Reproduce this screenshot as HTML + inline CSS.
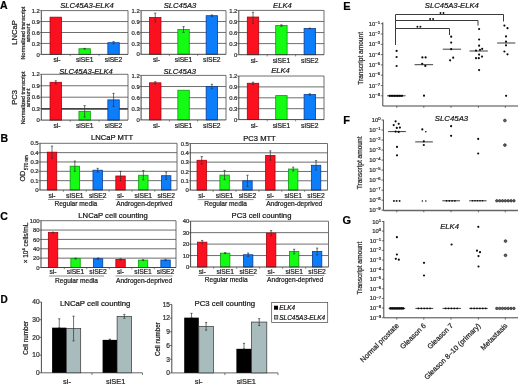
<!DOCTYPE html><html><head><meta charset="utf-8"><style>html,body{margin:0;padding:0;background:#fff;}svg{display:block}</style></head><body>
<svg width="520" height="386" viewBox="0 0 520 386" style="font-family:'Liberation Sans',Arial,sans-serif">
<style>text{stroke:#222;stroke-width:0.22px;paint-order:stroke}</style>
<rect x="0" y="0" width="520" height="386" fill="#fff"/>
<text x="0.1" y="9.3" font-size="10.5" text-anchor="start" fill="#000" font-weight="bold">A</text>
<line x1="41.3" y1="43.45" x2="128" y2="43.45" stroke="#5e5e5e" stroke-width="0.9"/>
<line x1="41.3" y1="32.5" x2="128" y2="32.5" stroke="#5e5e5e" stroke-width="0.9"/>
<line x1="41.3" y1="21.55" x2="128" y2="21.55" stroke="#5e5e5e" stroke-width="0.9"/>
<line x1="41.3" y1="10.6" x2="128" y2="10.6" stroke="#5e5e5e" stroke-width="0.9"/>
<line x1="128" y1="10.6" x2="128" y2="54.4" stroke="#5e5e5e" stroke-width="0.9"/>
<text x="39.9" y="56.52" font-size="5.9" text-anchor="end" fill="#333">0</text>
<line x1="39.5" y1="54.4" x2="41.3" y2="54.4" stroke="#444" stroke-width="0.6"/>
<text x="39.9" y="45.57" font-size="5.9" text-anchor="end" fill="#333">0.3</text>
<line x1="39.5" y1="43.45" x2="41.3" y2="43.45" stroke="#444" stroke-width="0.6"/>
<text x="39.9" y="34.62" font-size="5.9" text-anchor="end" fill="#333">0.6</text>
<line x1="39.5" y1="32.5" x2="41.3" y2="32.5" stroke="#444" stroke-width="0.6"/>
<text x="39.9" y="23.67" font-size="5.9" text-anchor="end" fill="#333">0.9</text>
<line x1="39.5" y1="21.55" x2="41.3" y2="21.55" stroke="#444" stroke-width="0.6"/>
<text x="39.9" y="12.72" font-size="5.9" text-anchor="end" fill="#333">1.2</text>
<line x1="39.5" y1="10.6" x2="41.3" y2="10.6" stroke="#444" stroke-width="0.6"/>
<rect x="50.05" y="17.17" width="11.4" height="37.23" fill="#fb1020" stroke="#a8000a" stroke-width="0.8"/>
<rect x="78.95" y="48.74" width="11.4" height="5.66" fill="#14fc14" stroke="#0a9a0a" stroke-width="0.8"/>
<line x1="84.65" y1="48.38" x2="84.65" y2="49.11" stroke="#333" stroke-width="0.7"/>
<line x1="83.55" y1="48.38" x2="85.75" y2="48.38" stroke="#333" stroke-width="0.7"/>
<line x1="83.55" y1="49.11" x2="85.75" y2="49.11" stroke="#333" stroke-width="0.7"/>
<rect x="107.85" y="42.72" width="11.4" height="11.68" fill="#0c7efc" stroke="#0a3c96" stroke-width="0.8"/>
<line x1="113.55" y1="41.62" x2="113.55" y2="43.81" stroke="#333" stroke-width="0.7"/>
<line x1="112.45" y1="41.62" x2="114.65" y2="41.62" stroke="#333" stroke-width="0.7"/>
<line x1="112.45" y1="43.81" x2="114.65" y2="43.81" stroke="#333" stroke-width="0.7"/>
<line x1="41.3" y1="10.6" x2="41.3" y2="54.4" stroke="#333" stroke-width="0.9"/>
<line x1="41.3" y1="54.4" x2="128" y2="54.4" stroke="#333" stroke-width="0.9"/>
<line x1="70.2" y1="54.4" x2="70.2" y2="56.2" stroke="#444" stroke-width="0.6"/>
<line x1="99.1" y1="54.4" x2="99.1" y2="56.2" stroke="#444" stroke-width="0.6"/>
<text x="57.05" y="62.4" font-size="6.7" text-anchor="middle" fill="#222">si-</text>
<text x="84.65" y="62.4" font-size="6.7" text-anchor="middle" fill="#222">siSE1</text>
<text x="113.55" y="62.4" font-size="6.7" text-anchor="middle" fill="#222">siSE2</text>
<text x="87" y="8.1" font-size="7.6" text-anchor="middle" fill="#111" font-style="italic">SLC45A3-ELK4</text>
<line x1="141.1" y1="43.38" x2="226" y2="43.38" stroke="#5e5e5e" stroke-width="0.9"/>
<line x1="141.1" y1="32.45" x2="226" y2="32.45" stroke="#5e5e5e" stroke-width="0.9"/>
<line x1="141.1" y1="21.52" x2="226" y2="21.52" stroke="#5e5e5e" stroke-width="0.9"/>
<line x1="141.1" y1="10.6" x2="226" y2="10.6" stroke="#5e5e5e" stroke-width="0.9"/>
<line x1="226" y1="10.6" x2="226" y2="54.3" stroke="#5e5e5e" stroke-width="0.9"/>
<text x="139.7" y="56.42" font-size="5.9" text-anchor="end" fill="#333">0</text>
<line x1="139.3" y1="54.3" x2="141.1" y2="54.3" stroke="#444" stroke-width="0.6"/>
<text x="139.7" y="45.5" font-size="5.9" text-anchor="end" fill="#333">0.3</text>
<line x1="139.3" y1="43.38" x2="141.1" y2="43.38" stroke="#444" stroke-width="0.6"/>
<text x="139.7" y="34.57" font-size="5.9" text-anchor="end" fill="#333">0.6</text>
<line x1="139.3" y1="32.45" x2="141.1" y2="32.45" stroke="#444" stroke-width="0.6"/>
<text x="139.7" y="23.65" font-size="5.9" text-anchor="end" fill="#333">0.9</text>
<line x1="139.3" y1="21.52" x2="141.1" y2="21.52" stroke="#444" stroke-width="0.6"/>
<text x="139.7" y="12.72" font-size="5.9" text-anchor="end" fill="#333">1.2</text>
<line x1="139.3" y1="10.6" x2="141.1" y2="10.6" stroke="#444" stroke-width="0.6"/>
<rect x="149.55" y="17.52" width="11.4" height="36.78" fill="#fb1020" stroke="#a8000a" stroke-width="0.8"/>
<line x1="155.25" y1="13.15" x2="155.25" y2="21.89" stroke="#333" stroke-width="0.7"/>
<line x1="154.15" y1="13.15" x2="156.35" y2="13.15" stroke="#333" stroke-width="0.7"/>
<line x1="154.15" y1="21.89" x2="156.35" y2="21.89" stroke="#333" stroke-width="0.7"/>
<rect x="177.85" y="29.54" width="11.4" height="24.76" fill="#14fc14" stroke="#0a9a0a" stroke-width="0.8"/>
<line x1="183.55" y1="26.62" x2="183.55" y2="32.45" stroke="#333" stroke-width="0.7"/>
<line x1="182.45" y1="26.62" x2="184.65" y2="26.62" stroke="#333" stroke-width="0.7"/>
<line x1="182.45" y1="32.45" x2="184.65" y2="32.45" stroke="#333" stroke-width="0.7"/>
<rect x="206.15" y="15.7" width="11.4" height="38.6" fill="#0c7efc" stroke="#0a3c96" stroke-width="0.8"/>
<line x1="211.85" y1="14.97" x2="211.85" y2="16.43" stroke="#333" stroke-width="0.7"/>
<line x1="210.75" y1="14.97" x2="212.95" y2="14.97" stroke="#333" stroke-width="0.7"/>
<line x1="210.75" y1="16.43" x2="212.95" y2="16.43" stroke="#333" stroke-width="0.7"/>
<line x1="141.1" y1="10.6" x2="141.1" y2="54.3" stroke="#333" stroke-width="0.9"/>
<line x1="141.1" y1="54.3" x2="226" y2="54.3" stroke="#333" stroke-width="0.9"/>
<line x1="169.4" y1="54.3" x2="169.4" y2="56.1" stroke="#444" stroke-width="0.6"/>
<line x1="197.7" y1="54.3" x2="197.7" y2="56.1" stroke="#444" stroke-width="0.6"/>
<text x="156.55" y="62.3" font-size="6.7" text-anchor="middle" fill="#222">si-</text>
<text x="183.55" y="62.3" font-size="6.7" text-anchor="middle" fill="#222">siSE1</text>
<text x="211.85" y="62.3" font-size="6.7" text-anchor="middle" fill="#222">siSE2</text>
<text x="180" y="7.8" font-size="7.6" text-anchor="middle" fill="#111" font-style="italic">SLC45A3</text>
<line x1="238.8" y1="43.62" x2="324" y2="43.62" stroke="#5e5e5e" stroke-width="0.9"/>
<line x1="238.8" y1="32.55" x2="324" y2="32.55" stroke="#5e5e5e" stroke-width="0.9"/>
<line x1="238.8" y1="21.47" x2="324" y2="21.47" stroke="#5e5e5e" stroke-width="0.9"/>
<line x1="238.8" y1="10.4" x2="324" y2="10.4" stroke="#5e5e5e" stroke-width="0.9"/>
<line x1="324" y1="10.4" x2="324" y2="54.7" stroke="#5e5e5e" stroke-width="0.9"/>
<text x="237.4" y="56.82" font-size="5.9" text-anchor="end" fill="#333">0</text>
<line x1="237" y1="54.7" x2="238.8" y2="54.7" stroke="#444" stroke-width="0.6"/>
<text x="237.4" y="45.75" font-size="5.9" text-anchor="end" fill="#333">0.3</text>
<line x1="237" y1="43.62" x2="238.8" y2="43.62" stroke="#444" stroke-width="0.6"/>
<text x="237.4" y="34.67" font-size="5.9" text-anchor="end" fill="#333">0.6</text>
<line x1="237" y1="32.55" x2="238.8" y2="32.55" stroke="#444" stroke-width="0.6"/>
<text x="237.4" y="23.6" font-size="5.9" text-anchor="end" fill="#333">0.9</text>
<line x1="237" y1="21.47" x2="238.8" y2="21.47" stroke="#444" stroke-width="0.6"/>
<text x="237.4" y="12.52" font-size="5.9" text-anchor="end" fill="#333">1.2</text>
<line x1="237" y1="10.4" x2="238.8" y2="10.4" stroke="#444" stroke-width="0.6"/>
<rect x="247.3" y="17.04" width="11.4" height="37.66" fill="#fb1020" stroke="#a8000a" stroke-width="0.8"/>
<line x1="253" y1="12.25" x2="253" y2="23.32" stroke="#333" stroke-width="0.7"/>
<line x1="251.9" y1="12.25" x2="254.1" y2="12.25" stroke="#333" stroke-width="0.7"/>
<line x1="251.9" y1="23.32" x2="254.1" y2="23.32" stroke="#333" stroke-width="0.7"/>
<rect x="275.7" y="25.54" width="11.4" height="29.16" fill="#14fc14" stroke="#0a9a0a" stroke-width="0.8"/>
<line x1="281.4" y1="24.8" x2="281.4" y2="26.27" stroke="#333" stroke-width="0.7"/>
<line x1="280.3" y1="24.8" x2="282.5" y2="24.8" stroke="#333" stroke-width="0.7"/>
<line x1="280.3" y1="26.27" x2="282.5" y2="26.27" stroke="#333" stroke-width="0.7"/>
<rect x="304.1" y="28.49" width="11.4" height="26.21" fill="#0c7efc" stroke="#0a3c96" stroke-width="0.8"/>
<line x1="309.8" y1="28.12" x2="309.8" y2="28.86" stroke="#333" stroke-width="0.7"/>
<line x1="308.7" y1="28.12" x2="310.9" y2="28.12" stroke="#333" stroke-width="0.7"/>
<line x1="308.7" y1="28.86" x2="310.9" y2="28.86" stroke="#333" stroke-width="0.7"/>
<line x1="238.8" y1="10.4" x2="238.8" y2="54.7" stroke="#333" stroke-width="0.9"/>
<line x1="238.8" y1="54.7" x2="324" y2="54.7" stroke="#333" stroke-width="0.9"/>
<line x1="267.2" y1="54.7" x2="267.2" y2="56.5" stroke="#444" stroke-width="0.6"/>
<line x1="295.6" y1="54.7" x2="295.6" y2="56.5" stroke="#444" stroke-width="0.6"/>
<text x="254.3" y="62.7" font-size="6.7" text-anchor="middle" fill="#222">si-</text>
<text x="281.4" y="62.7" font-size="6.7" text-anchor="middle" fill="#222">siSE1</text>
<text x="309.8" y="62.7" font-size="6.7" text-anchor="middle" fill="#222">siSE2</text>
<text x="282.4" y="7.7" font-size="7.6" text-anchor="middle" fill="#111" font-style="italic">ELK4</text>
<line x1="41.3" y1="108.85" x2="128" y2="108.85" stroke="#454545" stroke-width="1.6"/>
<line x1="41.3" y1="97.2" x2="128" y2="97.2" stroke="#5e5e5e" stroke-width="0.9"/>
<line x1="41.3" y1="85.75" x2="128" y2="85.75" stroke="#5e5e5e" stroke-width="0.9"/>
<line x1="41.3" y1="74.3" x2="128" y2="74.3" stroke="#5e5e5e" stroke-width="0.9"/>
<line x1="128" y1="74.3" x2="128" y2="120.1" stroke="#5e5e5e" stroke-width="0.9"/>
<text x="39.9" y="122.22" font-size="5.9" text-anchor="end" fill="#333">0</text>
<line x1="39.5" y1="120.1" x2="41.3" y2="120.1" stroke="#444" stroke-width="0.6"/>
<text x="39.9" y="110.77" font-size="5.9" text-anchor="end" fill="#333">0.3</text>
<line x1="39.5" y1="108.65" x2="41.3" y2="108.65" stroke="#444" stroke-width="0.6"/>
<text x="39.9" y="99.32" font-size="5.9" text-anchor="end" fill="#333">0.6</text>
<line x1="39.5" y1="97.2" x2="41.3" y2="97.2" stroke="#444" stroke-width="0.6"/>
<text x="39.9" y="87.87" font-size="5.9" text-anchor="end" fill="#333">0.9</text>
<line x1="39.5" y1="85.75" x2="41.3" y2="85.75" stroke="#444" stroke-width="0.6"/>
<text x="39.9" y="76.42" font-size="5.9" text-anchor="end" fill="#333">1.2</text>
<line x1="39.5" y1="74.3" x2="41.3" y2="74.3" stroke="#444" stroke-width="0.6"/>
<rect x="50.05" y="82.31" width="11.4" height="37.78" fill="#fb1020" stroke="#a8000a" stroke-width="0.8"/>
<line x1="55.75" y1="80.79" x2="55.75" y2="83.84" stroke="#333" stroke-width="0.7"/>
<line x1="54.65" y1="80.79" x2="56.85" y2="80.79" stroke="#333" stroke-width="0.7"/>
<line x1="54.65" y1="83.84" x2="56.85" y2="83.84" stroke="#333" stroke-width="0.7"/>
<rect x="78.95" y="111.32" width="11.4" height="8.78" fill="#14fc14" stroke="#0a9a0a" stroke-width="0.8"/>
<line x1="84.65" y1="105.6" x2="84.65" y2="117.05" stroke="#333" stroke-width="0.7"/>
<line x1="83.55" y1="105.6" x2="85.75" y2="105.6" stroke="#333" stroke-width="0.7"/>
<line x1="83.55" y1="117.05" x2="85.75" y2="117.05" stroke="#333" stroke-width="0.7"/>
<rect x="107.85" y="99.87" width="11.4" height="20.23" fill="#0c7efc" stroke="#0a3c96" stroke-width="0.8"/>
<line x1="113.55" y1="93.38" x2="113.55" y2="106.36" stroke="#333" stroke-width="0.7"/>
<line x1="112.45" y1="93.38" x2="114.65" y2="93.38" stroke="#333" stroke-width="0.7"/>
<line x1="112.45" y1="106.36" x2="114.65" y2="106.36" stroke="#333" stroke-width="0.7"/>
<line x1="41.3" y1="74.3" x2="41.3" y2="120.1" stroke="#333" stroke-width="0.9"/>
<line x1="41.3" y1="120.1" x2="128" y2="120.1" stroke="#333" stroke-width="0.9"/>
<line x1="70.2" y1="120.1" x2="70.2" y2="121.9" stroke="#444" stroke-width="0.6"/>
<line x1="99.1" y1="120.1" x2="99.1" y2="121.9" stroke="#444" stroke-width="0.6"/>
<text x="57.05" y="128.1" font-size="6.7" text-anchor="middle" fill="#222">si-</text>
<text x="84.65" y="128.1" font-size="6.7" text-anchor="middle" fill="#222">siSE1</text>
<text x="113.55" y="128.1" font-size="6.7" text-anchor="middle" fill="#222">siSE2</text>
<text x="86" y="73.5" font-size="7.6" text-anchor="middle" fill="#111" font-style="italic">SLC45A3-ELK4</text>
<line x1="141.1" y1="108.78" x2="226" y2="108.78" stroke="#5e5e5e" stroke-width="0.9"/>
<line x1="141.1" y1="97.65" x2="226" y2="97.65" stroke="#5e5e5e" stroke-width="0.9"/>
<line x1="141.1" y1="86.53" x2="226" y2="86.53" stroke="#5e5e5e" stroke-width="0.9"/>
<line x1="141.1" y1="75.4" x2="226" y2="75.4" stroke="#5e5e5e" stroke-width="0.9"/>
<line x1="226" y1="75.4" x2="226" y2="119.9" stroke="#5e5e5e" stroke-width="0.9"/>
<text x="139.7" y="122.02" font-size="5.9" text-anchor="end" fill="#333">0</text>
<line x1="139.3" y1="119.9" x2="141.1" y2="119.9" stroke="#444" stroke-width="0.6"/>
<text x="139.7" y="110.9" font-size="5.9" text-anchor="end" fill="#333">0.3</text>
<line x1="139.3" y1="108.78" x2="141.1" y2="108.78" stroke="#444" stroke-width="0.6"/>
<text x="139.7" y="99.77" font-size="5.9" text-anchor="end" fill="#333">0.6</text>
<line x1="139.3" y1="97.65" x2="141.1" y2="97.65" stroke="#444" stroke-width="0.6"/>
<text x="139.7" y="88.65" font-size="5.9" text-anchor="end" fill="#333">0.9</text>
<line x1="139.3" y1="86.53" x2="141.1" y2="86.53" stroke="#444" stroke-width="0.6"/>
<text x="139.7" y="77.52" font-size="5.9" text-anchor="end" fill="#333">1.2</text>
<line x1="139.3" y1="75.4" x2="141.1" y2="75.4" stroke="#444" stroke-width="0.6"/>
<rect x="149.55" y="82.82" width="11.4" height="37.08" fill="#fb1020" stroke="#a8000a" stroke-width="0.8"/>
<line x1="155.25" y1="81.7" x2="155.25" y2="83.93" stroke="#333" stroke-width="0.7"/>
<line x1="154.15" y1="81.7" x2="156.35" y2="81.7" stroke="#333" stroke-width="0.7"/>
<line x1="154.15" y1="83.93" x2="156.35" y2="83.93" stroke="#333" stroke-width="0.7"/>
<rect x="177.85" y="90.23" width="11.4" height="29.67" fill="#14fc14" stroke="#0a9a0a" stroke-width="0.8"/>
<rect x="206.15" y="86.53" width="11.4" height="33.38" fill="#0c7efc" stroke="#0a3c96" stroke-width="0.8"/>
<line x1="211.85" y1="84.3" x2="211.85" y2="88.75" stroke="#333" stroke-width="0.7"/>
<line x1="210.75" y1="84.3" x2="212.95" y2="84.3" stroke="#333" stroke-width="0.7"/>
<line x1="210.75" y1="88.75" x2="212.95" y2="88.75" stroke="#333" stroke-width="0.7"/>
<line x1="141.1" y1="75.4" x2="141.1" y2="119.9" stroke="#333" stroke-width="0.9"/>
<line x1="141.1" y1="119.9" x2="226" y2="119.9" stroke="#333" stroke-width="0.9"/>
<line x1="169.4" y1="119.9" x2="169.4" y2="121.7" stroke="#444" stroke-width="0.6"/>
<line x1="197.7" y1="119.9" x2="197.7" y2="121.7" stroke="#444" stroke-width="0.6"/>
<text x="156.55" y="127.9" font-size="6.7" text-anchor="middle" fill="#222">si-</text>
<text x="183.55" y="127.9" font-size="6.7" text-anchor="middle" fill="#222">siSE1</text>
<text x="211.85" y="127.9" font-size="6.7" text-anchor="middle" fill="#222">siSE2</text>
<text x="179.7" y="73.8" font-size="7.6" text-anchor="middle" fill="#111" font-style="italic">SLC45A3</text>
<line x1="238.8" y1="108.7" x2="324" y2="108.7" stroke="#5e5e5e" stroke-width="0.9"/>
<line x1="238.8" y1="97.8" x2="324" y2="97.8" stroke="#5e5e5e" stroke-width="0.9"/>
<line x1="238.8" y1="86.9" x2="324" y2="86.9" stroke="#5e5e5e" stroke-width="0.9"/>
<line x1="238.8" y1="76" x2="324" y2="76" stroke="#5e5e5e" stroke-width="0.9"/>
<line x1="324" y1="76" x2="324" y2="119.6" stroke="#5e5e5e" stroke-width="0.9"/>
<text x="237.4" y="121.72" font-size="5.9" text-anchor="end" fill="#333">0</text>
<line x1="237" y1="119.6" x2="238.8" y2="119.6" stroke="#444" stroke-width="0.6"/>
<text x="237.4" y="110.82" font-size="5.9" text-anchor="end" fill="#333">0.3</text>
<line x1="237" y1="108.7" x2="238.8" y2="108.7" stroke="#444" stroke-width="0.6"/>
<text x="237.4" y="99.92" font-size="5.9" text-anchor="end" fill="#333">0.6</text>
<line x1="237" y1="97.8" x2="238.8" y2="97.8" stroke="#444" stroke-width="0.6"/>
<text x="237.4" y="89.02" font-size="5.9" text-anchor="end" fill="#333">0.9</text>
<line x1="237" y1="86.9" x2="238.8" y2="86.9" stroke="#444" stroke-width="0.6"/>
<text x="237.4" y="78.12" font-size="5.9" text-anchor="end" fill="#333">1.2</text>
<line x1="237" y1="76" x2="238.8" y2="76" stroke="#444" stroke-width="0.6"/>
<rect x="247.3" y="83.27" width="11.4" height="36.33" fill="#fb1020" stroke="#a8000a" stroke-width="0.8"/>
<line x1="253" y1="82.18" x2="253" y2="84.36" stroke="#333" stroke-width="0.7"/>
<line x1="251.9" y1="82.18" x2="254.1" y2="82.18" stroke="#333" stroke-width="0.7"/>
<line x1="251.9" y1="84.36" x2="254.1" y2="84.36" stroke="#333" stroke-width="0.7"/>
<rect x="275.7" y="95.62" width="11.4" height="23.98" fill="#14fc14" stroke="#0a9a0a" stroke-width="0.8"/>
<rect x="304.1" y="94.53" width="11.4" height="25.07" fill="#0c7efc" stroke="#0a3c96" stroke-width="0.8"/>
<line x1="309.8" y1="93.8" x2="309.8" y2="95.26" stroke="#333" stroke-width="0.7"/>
<line x1="308.7" y1="93.8" x2="310.9" y2="93.8" stroke="#333" stroke-width="0.7"/>
<line x1="308.7" y1="95.26" x2="310.9" y2="95.26" stroke="#333" stroke-width="0.7"/>
<line x1="238.8" y1="76" x2="238.8" y2="119.6" stroke="#333" stroke-width="0.9"/>
<line x1="238.8" y1="119.6" x2="324" y2="119.6" stroke="#333" stroke-width="0.9"/>
<line x1="267.2" y1="119.6" x2="267.2" y2="121.4" stroke="#444" stroke-width="0.6"/>
<line x1="295.6" y1="119.6" x2="295.6" y2="121.4" stroke="#444" stroke-width="0.6"/>
<text x="254.3" y="127.6" font-size="6.7" text-anchor="middle" fill="#222">si-</text>
<text x="281.4" y="127.6" font-size="6.7" text-anchor="middle" fill="#222">siSE1</text>
<text x="309.8" y="127.6" font-size="6.7" text-anchor="middle" fill="#222">siSE2</text>
<text x="280.5" y="73.3" font-size="7.6" text-anchor="middle" fill="#111" font-style="italic">ELK4</text>
<g transform="translate(17.2,32.5) rotate(-90)">
<text x="0" y="0" font-size="7.6" text-anchor="middle" fill="#222">LNCaP</text>
</g>
<g transform="translate(24.8,33) rotate(-90)">
<text x="0" y="0" font-size="5.6" text-anchor="middle" fill="#222">Normalized transcript</text>
<text x="0" y="5.2" font-size="5.6" text-anchor="middle" fill="#222">amount</text>
</g>
<g transform="translate(17.2,97.4) rotate(-90)">
<text x="0" y="0" font-size="7.6" text-anchor="middle" fill="#222">PC3</text>
</g>
<g transform="translate(24.8,97.9) rotate(-90)">
<text x="0" y="0" font-size="5.6" text-anchor="middle" fill="#222">Normalized transcript</text>
<text x="0" y="5.2" font-size="5.6" text-anchor="middle" fill="#222">amount</text>
</g>
<text x="0.5" y="141.5" font-size="10.5" text-anchor="start" fill="#000" font-weight="bold">B</text>
<line x1="40" y1="180.66" x2="177" y2="180.66" stroke="#5e5e5e" stroke-width="0.9"/>
<line x1="40" y1="171.32" x2="177" y2="171.32" stroke="#5e5e5e" stroke-width="0.9"/>
<line x1="40" y1="161.98" x2="177" y2="161.98" stroke="#5e5e5e" stroke-width="0.9"/>
<line x1="40" y1="152.64" x2="177" y2="152.64" stroke="#5e5e5e" stroke-width="0.9"/>
<line x1="40" y1="143.3" x2="177" y2="143.3" stroke="#5e5e5e" stroke-width="0.9"/>
<line x1="177" y1="143.3" x2="177" y2="190" stroke="#5e5e5e" stroke-width="0.9"/>
<text x="38.6" y="192.12" font-size="5.9" text-anchor="end" fill="#333">0</text>
<line x1="38.2" y1="190" x2="40" y2="190" stroke="#444" stroke-width="0.6"/>
<text x="38.6" y="182.78" font-size="5.9" text-anchor="end" fill="#333">0.1</text>
<line x1="38.2" y1="180.66" x2="40" y2="180.66" stroke="#444" stroke-width="0.6"/>
<text x="38.6" y="173.44" font-size="5.9" text-anchor="end" fill="#333">0.2</text>
<line x1="38.2" y1="171.32" x2="40" y2="171.32" stroke="#444" stroke-width="0.6"/>
<text x="38.6" y="164.1" font-size="5.9" text-anchor="end" fill="#333">0.3</text>
<line x1="38.2" y1="161.98" x2="40" y2="161.98" stroke="#444" stroke-width="0.6"/>
<text x="38.6" y="154.76" font-size="5.9" text-anchor="end" fill="#333">0.4</text>
<line x1="38.2" y1="152.64" x2="40" y2="152.64" stroke="#444" stroke-width="0.6"/>
<text x="38.6" y="145.42" font-size="5.9" text-anchor="end" fill="#333">0.5</text>
<line x1="38.2" y1="143.3" x2="40" y2="143.3" stroke="#444" stroke-width="0.6"/>
<rect x="47.32" y="152.17" width="9.4" height="37.83" fill="#fb1020" stroke="#a8000a" stroke-width="0.8"/>
<line x1="52.02" y1="146.1" x2="52.02" y2="158.24" stroke="#333" stroke-width="0.7"/>
<line x1="50.92" y1="146.1" x2="53.12" y2="146.1" stroke="#333" stroke-width="0.7"/>
<line x1="50.92" y1="158.24" x2="53.12" y2="158.24" stroke="#333" stroke-width="0.7"/>
<rect x="70.15" y="166.18" width="9.4" height="23.82" fill="#14fc14" stroke="#0a9a0a" stroke-width="0.8"/>
<line x1="74.85" y1="161.05" x2="74.85" y2="171.32" stroke="#333" stroke-width="0.7"/>
<line x1="73.75" y1="161.05" x2="75.95" y2="161.05" stroke="#333" stroke-width="0.7"/>
<line x1="73.75" y1="171.32" x2="75.95" y2="171.32" stroke="#333" stroke-width="0.7"/>
<rect x="92.98" y="170.2" width="9.4" height="19.8" fill="#0c7efc" stroke="#0a3c96" stroke-width="0.8"/>
<line x1="97.68" y1="168.33" x2="97.68" y2="172.07" stroke="#333" stroke-width="0.7"/>
<line x1="96.58" y1="168.33" x2="98.78" y2="168.33" stroke="#333" stroke-width="0.7"/>
<line x1="96.58" y1="172.07" x2="98.78" y2="172.07" stroke="#333" stroke-width="0.7"/>
<rect x="115.82" y="175.99" width="9.4" height="14.01" fill="#fb1020" stroke="#a8000a" stroke-width="0.8"/>
<line x1="120.52" y1="171.32" x2="120.52" y2="180.66" stroke="#333" stroke-width="0.7"/>
<line x1="119.42" y1="171.32" x2="121.62" y2="171.32" stroke="#333" stroke-width="0.7"/>
<line x1="119.42" y1="180.66" x2="121.62" y2="180.66" stroke="#333" stroke-width="0.7"/>
<rect x="138.65" y="175.24" width="9.4" height="14.76" fill="#14fc14" stroke="#0a9a0a" stroke-width="0.8"/>
<line x1="143.35" y1="170.57" x2="143.35" y2="179.91" stroke="#333" stroke-width="0.7"/>
<line x1="142.25" y1="170.57" x2="144.45" y2="170.57" stroke="#333" stroke-width="0.7"/>
<line x1="142.25" y1="179.91" x2="144.45" y2="179.91" stroke="#333" stroke-width="0.7"/>
<rect x="161.48" y="175.71" width="9.4" height="14.29" fill="#0c7efc" stroke="#0a3c96" stroke-width="0.8"/>
<line x1="166.18" y1="171.97" x2="166.18" y2="179.45" stroke="#333" stroke-width="0.7"/>
<line x1="165.08" y1="171.97" x2="167.28" y2="171.97" stroke="#333" stroke-width="0.7"/>
<line x1="165.08" y1="179.45" x2="167.28" y2="179.45" stroke="#333" stroke-width="0.7"/>
<line x1="40" y1="143.3" x2="40" y2="190" stroke="#333" stroke-width="0.9"/>
<line x1="40" y1="190" x2="177" y2="190" stroke="#333" stroke-width="0.9"/>
<line x1="63.43" y1="190" x2="63.43" y2="191.8" stroke="#444" stroke-width="0.6"/>
<line x1="86.27" y1="190" x2="86.27" y2="191.8" stroke="#444" stroke-width="0.6"/>
<line x1="109.1" y1="190" x2="109.1" y2="191.8" stroke="#444" stroke-width="0.6"/>
<line x1="131.93" y1="190" x2="131.93" y2="191.8" stroke="#444" stroke-width="0.6"/>
<line x1="154.77" y1="190" x2="154.77" y2="191.8" stroke="#444" stroke-width="0.6"/>
<text x="52.02" y="198.2" font-size="6.7" text-anchor="middle" fill="#222">si-</text>
<text x="74.85" y="198.2" font-size="6.7" text-anchor="middle" fill="#222">siSE1</text>
<text x="97.68" y="198.2" font-size="6.7" text-anchor="middle" fill="#222">siSE2</text>
<text x="120.52" y="198.2" font-size="6.7" text-anchor="middle" fill="#222">si-</text>
<text x="143.35" y="198.2" font-size="6.7" text-anchor="middle" fill="#222">siSE1</text>
<text x="166.18" y="198.2" font-size="6.7" text-anchor="middle" fill="#222">siSE2</text>
<text x="112" y="140.3" font-size="7.6" text-anchor="middle" fill="#111">LNCaP MTT</text>
<line x1="48.02" y1="199.5" x2="103.68" y2="199.5" stroke="#444" stroke-width="0.6"/>
<text x="75.85" y="206.2" font-size="6.6" text-anchor="middle" fill="#222">Regular media</text>
<line x1="115.52" y1="199.5" x2="173.18" y2="199.5" stroke="#444" stroke-width="0.6"/>
<text x="144.35" y="206.2" font-size="6.6" text-anchor="middle" fill="#222">Androgen-deprived</text>
<line x1="190.3" y1="180.78" x2="327.5" y2="180.78" stroke="#5e5e5e" stroke-width="0.9"/>
<line x1="190.3" y1="171.46" x2="327.5" y2="171.46" stroke="#5e5e5e" stroke-width="0.9"/>
<line x1="190.3" y1="162.14" x2="327.5" y2="162.14" stroke="#5e5e5e" stroke-width="0.9"/>
<line x1="190.3" y1="152.82" x2="327.5" y2="152.82" stroke="#5e5e5e" stroke-width="0.9"/>
<line x1="190.3" y1="143.5" x2="327.5" y2="143.5" stroke="#5e5e5e" stroke-width="0.9"/>
<line x1="327.5" y1="143.5" x2="327.5" y2="190.1" stroke="#5e5e5e" stroke-width="0.9"/>
<text x="188.9" y="192.22" font-size="5.9" text-anchor="end" fill="#333">0</text>
<line x1="188.5" y1="190.1" x2="190.3" y2="190.1" stroke="#444" stroke-width="0.6"/>
<text x="188.9" y="182.9" font-size="5.9" text-anchor="end" fill="#333">0.1</text>
<line x1="188.5" y1="180.78" x2="190.3" y2="180.78" stroke="#444" stroke-width="0.6"/>
<text x="188.9" y="173.58" font-size="5.9" text-anchor="end" fill="#333">0.2</text>
<line x1="188.5" y1="171.46" x2="190.3" y2="171.46" stroke="#444" stroke-width="0.6"/>
<text x="188.9" y="164.26" font-size="5.9" text-anchor="end" fill="#333">0.3</text>
<line x1="188.5" y1="162.14" x2="190.3" y2="162.14" stroke="#444" stroke-width="0.6"/>
<text x="188.9" y="154.94" font-size="5.9" text-anchor="end" fill="#333">0.4</text>
<line x1="188.5" y1="152.82" x2="190.3" y2="152.82" stroke="#444" stroke-width="0.6"/>
<text x="188.9" y="145.62" font-size="5.9" text-anchor="end" fill="#333">0.5</text>
<line x1="188.5" y1="143.5" x2="190.3" y2="143.5" stroke="#444" stroke-width="0.6"/>
<rect x="197.03" y="160.28" width="9.4" height="29.82" fill="#fb1020" stroke="#a8000a" stroke-width="0.8"/>
<line x1="201.73" y1="156.55" x2="201.73" y2="164" stroke="#333" stroke-width="0.7"/>
<line x1="200.63" y1="156.55" x2="202.83" y2="156.55" stroke="#333" stroke-width="0.7"/>
<line x1="200.63" y1="164" x2="202.83" y2="164" stroke="#333" stroke-width="0.7"/>
<rect x="219.9" y="175.09" width="9.4" height="15.01" fill="#14fc14" stroke="#0a9a0a" stroke-width="0.8"/>
<line x1="224.6" y1="170.43" x2="224.6" y2="179.75" stroke="#333" stroke-width="0.7"/>
<line x1="223.5" y1="170.43" x2="225.7" y2="170.43" stroke="#333" stroke-width="0.7"/>
<line x1="223.5" y1="179.75" x2="225.7" y2="179.75" stroke="#333" stroke-width="0.7"/>
<rect x="242.77" y="180.87" width="9.4" height="9.23" fill="#0c7efc" stroke="#0a3c96" stroke-width="0.8"/>
<line x1="247.47" y1="175.28" x2="247.47" y2="186.47" stroke="#333" stroke-width="0.7"/>
<line x1="246.37" y1="175.28" x2="248.57" y2="175.28" stroke="#333" stroke-width="0.7"/>
<line x1="246.37" y1="186.47" x2="248.57" y2="186.47" stroke="#333" stroke-width="0.7"/>
<rect x="265.63" y="155.52" width="9.4" height="34.58" fill="#fb1020" stroke="#a8000a" stroke-width="0.8"/>
<line x1="270.33" y1="150.86" x2="270.33" y2="160.18" stroke="#333" stroke-width="0.7"/>
<line x1="269.23" y1="150.86" x2="271.43" y2="150.86" stroke="#333" stroke-width="0.7"/>
<line x1="269.23" y1="160.18" x2="271.43" y2="160.18" stroke="#333" stroke-width="0.7"/>
<rect x="288.5" y="169.04" width="9.4" height="21.06" fill="#14fc14" stroke="#0a9a0a" stroke-width="0.8"/>
<line x1="293.2" y1="167.17" x2="293.2" y2="170.9" stroke="#333" stroke-width="0.7"/>
<line x1="292.1" y1="167.17" x2="294.3" y2="167.17" stroke="#333" stroke-width="0.7"/>
<line x1="292.1" y1="170.9" x2="294.3" y2="170.9" stroke="#333" stroke-width="0.7"/>
<rect x="311.37" y="165.31" width="9.4" height="24.79" fill="#0c7efc" stroke="#0a3c96" stroke-width="0.8"/>
<line x1="316.07" y1="160.65" x2="316.07" y2="169.97" stroke="#333" stroke-width="0.7"/>
<line x1="314.97" y1="160.65" x2="317.17" y2="160.65" stroke="#333" stroke-width="0.7"/>
<line x1="314.97" y1="169.97" x2="317.17" y2="169.97" stroke="#333" stroke-width="0.7"/>
<line x1="190.3" y1="143.5" x2="190.3" y2="190.1" stroke="#333" stroke-width="0.9"/>
<line x1="190.3" y1="190.1" x2="327.5" y2="190.1" stroke="#333" stroke-width="0.9"/>
<line x1="213.17" y1="190.1" x2="213.17" y2="191.9" stroke="#444" stroke-width="0.6"/>
<line x1="236.03" y1="190.1" x2="236.03" y2="191.9" stroke="#444" stroke-width="0.6"/>
<line x1="258.9" y1="190.1" x2="258.9" y2="191.9" stroke="#444" stroke-width="0.6"/>
<line x1="281.77" y1="190.1" x2="281.77" y2="191.9" stroke="#444" stroke-width="0.6"/>
<line x1="304.63" y1="190.1" x2="304.63" y2="191.9" stroke="#444" stroke-width="0.6"/>
<text x="201.73" y="198.3" font-size="6.7" text-anchor="middle" fill="#222">si-</text>
<text x="224.6" y="198.3" font-size="6.7" text-anchor="middle" fill="#222">siSE1</text>
<text x="247.47" y="198.3" font-size="6.7" text-anchor="middle" fill="#222">siSE2</text>
<text x="270.33" y="198.3" font-size="6.7" text-anchor="middle" fill="#222">si-</text>
<text x="293.2" y="198.3" font-size="6.7" text-anchor="middle" fill="#222">siSE1</text>
<text x="316.07" y="198.3" font-size="6.7" text-anchor="middle" fill="#222">siSE2</text>
<text x="259.5" y="140.5" font-size="7.6" text-anchor="middle" fill="#111">PC3 MTT</text>
<line x1="197.73" y1="199.6" x2="253.47" y2="199.6" stroke="#444" stroke-width="0.6"/>
<text x="225.6" y="206.3" font-size="6.6" text-anchor="middle" fill="#222">Regular media</text>
<line x1="265.33" y1="199.6" x2="323.07" y2="199.6" stroke="#444" stroke-width="0.6"/>
<text x="294.2" y="206.3" font-size="6.6" text-anchor="middle" fill="#222">Androgen-deprived</text>
<g transform="translate(24.6,181.6) rotate(-90)">
<text x="0" y="0" font-size="7.3" text-anchor="start" fill="#222">OD<tspan font-size="4.5" dy="3.0" dx="0.3">570 nm</tspan></text>
</g>
<text x="0.3" y="219.8" font-size="10.5" text-anchor="start" fill="#000" font-weight="bold">C</text>
<line x1="41" y1="258.14" x2="176" y2="258.14" stroke="#5e5e5e" stroke-width="0.9"/>
<line x1="41" y1="248.78" x2="176" y2="248.78" stroke="#5e5e5e" stroke-width="0.9"/>
<line x1="41" y1="239.42" x2="176" y2="239.42" stroke="#5e5e5e" stroke-width="0.9"/>
<line x1="41" y1="230.06" x2="176" y2="230.06" stroke="#5e5e5e" stroke-width="0.9"/>
<line x1="41" y1="220.7" x2="176" y2="220.7" stroke="#5e5e5e" stroke-width="0.9"/>
<line x1="176" y1="220.7" x2="176" y2="267.5" stroke="#5e5e5e" stroke-width="0.9"/>
<text x="39.6" y="269.62" font-size="5.9" text-anchor="end" fill="#333">0</text>
<line x1="39.2" y1="267.5" x2="41" y2="267.5" stroke="#444" stroke-width="0.6"/>
<text x="39.6" y="260.26" font-size="5.9" text-anchor="end" fill="#333">20</text>
<line x1="39.2" y1="258.14" x2="41" y2="258.14" stroke="#444" stroke-width="0.6"/>
<text x="39.6" y="250.9" font-size="5.9" text-anchor="end" fill="#333">40</text>
<line x1="39.2" y1="248.78" x2="41" y2="248.78" stroke="#444" stroke-width="0.6"/>
<text x="39.6" y="241.54" font-size="5.9" text-anchor="end" fill="#333">60</text>
<line x1="39.2" y1="239.42" x2="41" y2="239.42" stroke="#444" stroke-width="0.6"/>
<text x="39.6" y="232.18" font-size="5.9" text-anchor="end" fill="#333">80</text>
<line x1="39.2" y1="230.06" x2="41" y2="230.06" stroke="#444" stroke-width="0.6"/>
<text x="39.6" y="222.82" font-size="5.9" text-anchor="end" fill="#333">100</text>
<line x1="39.2" y1="220.7" x2="41" y2="220.7" stroke="#444" stroke-width="0.6"/>
<rect x="48.35" y="232.59" width="9.4" height="34.91" fill="#fb1020" stroke="#a8000a" stroke-width="0.8"/>
<line x1="53.05" y1="232.12" x2="53.05" y2="233.06" stroke="#333" stroke-width="0.7"/>
<line x1="51.95" y1="232.12" x2="54.15" y2="232.12" stroke="#333" stroke-width="0.7"/>
<line x1="51.95" y1="233.06" x2="54.15" y2="233.06" stroke="#333" stroke-width="0.7"/>
<rect x="70.85" y="258.51" width="9.4" height="8.99" fill="#14fc14" stroke="#0a9a0a" stroke-width="0.8"/>
<line x1="75.55" y1="258.05" x2="75.55" y2="258.98" stroke="#333" stroke-width="0.7"/>
<line x1="74.45" y1="258.05" x2="76.65" y2="258.05" stroke="#333" stroke-width="0.7"/>
<line x1="74.45" y1="258.98" x2="76.65" y2="258.98" stroke="#333" stroke-width="0.7"/>
<rect x="93.35" y="258.7" width="9.4" height="8.8" fill="#0c7efc" stroke="#0a3c96" stroke-width="0.8"/>
<line x1="98.05" y1="258" x2="98.05" y2="259.4" stroke="#333" stroke-width="0.7"/>
<line x1="96.95" y1="258" x2="99.15" y2="258" stroke="#333" stroke-width="0.7"/>
<line x1="96.95" y1="259.4" x2="99.15" y2="259.4" stroke="#333" stroke-width="0.7"/>
<rect x="115.85" y="259.4" width="9.4" height="8.1" fill="#fb1020" stroke="#a8000a" stroke-width="0.8"/>
<line x1="120.55" y1="258.7" x2="120.55" y2="260.11" stroke="#333" stroke-width="0.7"/>
<line x1="119.45" y1="258.7" x2="121.65" y2="258.7" stroke="#333" stroke-width="0.7"/>
<line x1="119.45" y1="260.11" x2="121.65" y2="260.11" stroke="#333" stroke-width="0.7"/>
<rect x="138.35" y="260.11" width="9.4" height="7.39" fill="#14fc14" stroke="#0a9a0a" stroke-width="0.8"/>
<line x1="143.05" y1="259.73" x2="143.05" y2="260.48" stroke="#333" stroke-width="0.7"/>
<line x1="141.95" y1="259.73" x2="144.15" y2="259.73" stroke="#333" stroke-width="0.7"/>
<line x1="141.95" y1="260.48" x2="144.15" y2="260.48" stroke="#333" stroke-width="0.7"/>
<rect x="160.85" y="260.01" width="9.4" height="7.49" fill="#0c7efc" stroke="#0a3c96" stroke-width="0.8"/>
<line x1="165.55" y1="259.31" x2="165.55" y2="260.71" stroke="#333" stroke-width="0.7"/>
<line x1="164.45" y1="259.31" x2="166.65" y2="259.31" stroke="#333" stroke-width="0.7"/>
<line x1="164.45" y1="260.71" x2="166.65" y2="260.71" stroke="#333" stroke-width="0.7"/>
<line x1="41" y1="220.7" x2="41" y2="267.5" stroke="#333" stroke-width="0.9"/>
<line x1="41" y1="267.5" x2="176" y2="267.5" stroke="#333" stroke-width="0.9"/>
<line x1="64.3" y1="267.5" x2="64.3" y2="269.3" stroke="#444" stroke-width="0.6"/>
<line x1="86.8" y1="267.5" x2="86.8" y2="269.3" stroke="#444" stroke-width="0.6"/>
<line x1="109.3" y1="267.5" x2="109.3" y2="269.3" stroke="#444" stroke-width="0.6"/>
<line x1="131.8" y1="267.5" x2="131.8" y2="269.3" stroke="#444" stroke-width="0.6"/>
<line x1="154.3" y1="267.5" x2="154.3" y2="269.3" stroke="#444" stroke-width="0.6"/>
<text x="53.05" y="274" font-size="6.7" text-anchor="middle" fill="#222">si-</text>
<text x="75.55" y="274" font-size="6.7" text-anchor="middle" fill="#222">siSE1</text>
<text x="98.05" y="274" font-size="6.7" text-anchor="middle" fill="#222">siSE2</text>
<text x="120.55" y="274" font-size="6.7" text-anchor="middle" fill="#222">si-</text>
<text x="143.05" y="274" font-size="6.7" text-anchor="middle" fill="#222">siSE1</text>
<text x="165.55" y="274" font-size="6.7" text-anchor="middle" fill="#222">siSE2</text>
<text x="113.1" y="217.8" font-size="7.7" text-anchor="middle" fill="#111">LNCaP cell counting</text>
<line x1="49.05" y1="276" x2="104.05" y2="276" stroke="#444" stroke-width="0.6"/>
<text x="76.55" y="282.7" font-size="6.6" text-anchor="middle" fill="#222">Regular media</text>
<line x1="115.55" y1="276" x2="172.55" y2="276" stroke="#444" stroke-width="0.6"/>
<text x="144.05" y="282.7" font-size="6.6" text-anchor="middle" fill="#222">Androgen-deprived</text>
<line x1="190.6" y1="255.55" x2="328.5" y2="255.55" stroke="#5e5e5e" stroke-width="0.9"/>
<line x1="190.6" y1="244.1" x2="328.5" y2="244.1" stroke="#5e5e5e" stroke-width="0.9"/>
<line x1="190.6" y1="232.65" x2="328.5" y2="232.65" stroke="#5e5e5e" stroke-width="0.9"/>
<line x1="190.6" y1="221.2" x2="328.5" y2="221.2" stroke="#5e5e5e" stroke-width="0.9"/>
<line x1="328.5" y1="221.2" x2="328.5" y2="267" stroke="#5e5e5e" stroke-width="0.9"/>
<text x="189.2" y="269.12" font-size="5.9" text-anchor="end" fill="#333">0</text>
<line x1="188.8" y1="267" x2="190.6" y2="267" stroke="#444" stroke-width="0.6"/>
<text x="189.2" y="257.67" font-size="5.9" text-anchor="end" fill="#333">10</text>
<line x1="188.8" y1="255.55" x2="190.6" y2="255.55" stroke="#444" stroke-width="0.6"/>
<text x="189.2" y="246.22" font-size="5.9" text-anchor="end" fill="#333">20</text>
<line x1="188.8" y1="244.1" x2="190.6" y2="244.1" stroke="#444" stroke-width="0.6"/>
<text x="189.2" y="234.77" font-size="5.9" text-anchor="end" fill="#333">30</text>
<line x1="188.8" y1="232.65" x2="190.6" y2="232.65" stroke="#444" stroke-width="0.6"/>
<text x="189.2" y="223.32" font-size="5.9" text-anchor="end" fill="#333">40</text>
<line x1="188.8" y1="221.2" x2="190.6" y2="221.2" stroke="#444" stroke-width="0.6"/>
<rect x="197.49" y="242.15" width="9.4" height="24.85" fill="#fb1020" stroke="#a8000a" stroke-width="0.8"/>
<line x1="202.19" y1="240.44" x2="202.19" y2="243.87" stroke="#333" stroke-width="0.7"/>
<line x1="201.09" y1="240.44" x2="203.29" y2="240.44" stroke="#333" stroke-width="0.7"/>
<line x1="201.09" y1="243.87" x2="203.29" y2="243.87" stroke="#333" stroke-width="0.7"/>
<rect x="220.47" y="253.15" width="9.4" height="13.85" fill="#14fc14" stroke="#0a9a0a" stroke-width="0.8"/>
<line x1="225.17" y1="252.69" x2="225.17" y2="253.6" stroke="#333" stroke-width="0.7"/>
<line x1="224.07" y1="252.69" x2="226.27" y2="252.69" stroke="#333" stroke-width="0.7"/>
<line x1="224.07" y1="253.6" x2="226.27" y2="253.6" stroke="#333" stroke-width="0.7"/>
<rect x="243.46" y="254.75" width="9.4" height="12.25" fill="#0c7efc" stroke="#0a3c96" stroke-width="0.8"/>
<line x1="248.16" y1="253.03" x2="248.16" y2="256.47" stroke="#333" stroke-width="0.7"/>
<line x1="247.06" y1="253.03" x2="249.26" y2="253.03" stroke="#333" stroke-width="0.7"/>
<line x1="247.06" y1="256.47" x2="249.26" y2="256.47" stroke="#333" stroke-width="0.7"/>
<rect x="266.44" y="233.11" width="9.4" height="33.89" fill="#fb1020" stroke="#a8000a" stroke-width="0.8"/>
<line x1="271.14" y1="230.59" x2="271.14" y2="235.63" stroke="#333" stroke-width="0.7"/>
<line x1="270.04" y1="230.59" x2="272.24" y2="230.59" stroke="#333" stroke-width="0.7"/>
<line x1="270.04" y1="235.63" x2="272.24" y2="235.63" stroke="#333" stroke-width="0.7"/>
<rect x="289.43" y="251.54" width="9.4" height="15.46" fill="#14fc14" stroke="#0a9a0a" stroke-width="0.8"/>
<line x1="294.12" y1="249.25" x2="294.12" y2="253.83" stroke="#333" stroke-width="0.7"/>
<line x1="293.02" y1="249.25" x2="295.23" y2="249.25" stroke="#333" stroke-width="0.7"/>
<line x1="293.02" y1="253.83" x2="295.23" y2="253.83" stroke="#333" stroke-width="0.7"/>
<rect x="312.41" y="251.54" width="9.4" height="15.46" fill="#0c7efc" stroke="#0a3c96" stroke-width="0.8"/>
<line x1="317.11" y1="248.11" x2="317.11" y2="254.98" stroke="#333" stroke-width="0.7"/>
<line x1="316.01" y1="248.11" x2="318.21" y2="248.11" stroke="#333" stroke-width="0.7"/>
<line x1="316.01" y1="254.98" x2="318.21" y2="254.98" stroke="#333" stroke-width="0.7"/>
<line x1="190.6" y1="221.2" x2="190.6" y2="267" stroke="#333" stroke-width="0.9"/>
<line x1="190.6" y1="267" x2="328.5" y2="267" stroke="#333" stroke-width="0.9"/>
<line x1="213.68" y1="267" x2="213.68" y2="268.8" stroke="#444" stroke-width="0.6"/>
<line x1="236.67" y1="267" x2="236.67" y2="268.8" stroke="#444" stroke-width="0.6"/>
<line x1="259.65" y1="267" x2="259.65" y2="268.8" stroke="#444" stroke-width="0.6"/>
<line x1="282.63" y1="267" x2="282.63" y2="268.8" stroke="#444" stroke-width="0.6"/>
<line x1="305.62" y1="267" x2="305.62" y2="268.8" stroke="#444" stroke-width="0.6"/>
<text x="202.19" y="273.5" font-size="6.7" text-anchor="middle" fill="#222">si-</text>
<text x="225.17" y="273.5" font-size="6.7" text-anchor="middle" fill="#222">siSE1</text>
<text x="248.16" y="273.5" font-size="6.7" text-anchor="middle" fill="#222">siSE2</text>
<text x="271.14" y="273.5" font-size="6.7" text-anchor="middle" fill="#222">si-</text>
<text x="294.12" y="273.5" font-size="6.7" text-anchor="middle" fill="#222">siSE1</text>
<text x="317.11" y="273.5" font-size="6.7" text-anchor="middle" fill="#222">siSE2</text>
<text x="261.5" y="217.8" font-size="7.7" text-anchor="middle" fill="#111">PC3 cell counting</text>
<line x1="198.19" y1="275.5" x2="254.16" y2="275.5" stroke="#444" stroke-width="0.6"/>
<text x="226.18" y="282.2" font-size="6.6" text-anchor="middle" fill="#222">Regular media</text>
<line x1="266.14" y1="275.5" x2="324.11" y2="275.5" stroke="#444" stroke-width="0.6"/>
<text x="295.12" y="282.2" font-size="6.6" text-anchor="middle" fill="#222">Androgen-deprived</text>
<g transform="translate(27.5,243) rotate(-90)">
<text x="0" y="0" font-size="6.5" text-anchor="middle" fill="#222">× 10<tspan font-size="4" dy="-2.5">4</tspan><tspan dy="2.5"> cells/mL</tspan></text>
</g>
<text x="0.5" y="302.5" font-size="10" text-anchor="start" fill="#000" font-weight="bold">D</text>
<line x1="41.4" y1="302" x2="41.4" y2="372.8" stroke="#333" stroke-width="0.9"/>
<line x1="41.4" y1="372.8" x2="142.5" y2="372.8" stroke="#555" stroke-width="0.9"/>
<line x1="39.4" y1="372.8" x2="41.4" y2="372.8" stroke="#333" stroke-width="0.7"/>
<text x="39.6" y="375.1" font-size="6.6" text-anchor="end" fill="#333">0</text>
<line x1="39.4" y1="355.1" x2="41.4" y2="355.1" stroke="#333" stroke-width="0.7"/>
<text x="39.6" y="357.4" font-size="6.6" text-anchor="end" fill="#333">10</text>
<line x1="39.4" y1="337.4" x2="41.4" y2="337.4" stroke="#333" stroke-width="0.7"/>
<text x="39.6" y="339.7" font-size="6.6" text-anchor="end" fill="#333">20</text>
<line x1="39.4" y1="319.7" x2="41.4" y2="319.7" stroke="#333" stroke-width="0.7"/>
<text x="39.6" y="322" font-size="6.6" text-anchor="end" fill="#333">30</text>
<line x1="39.4" y1="302" x2="41.4" y2="302" stroke="#333" stroke-width="0.7"/>
<text x="39.6" y="304.3" font-size="6.6" text-anchor="end" fill="#333">40</text>
<line x1="91.95" y1="372.8" x2="91.95" y2="375" stroke="#444" stroke-width="0.7"/>
<line x1="142.5" y1="372.8" x2="142.5" y2="375" stroke="#444" stroke-width="0.7"/>
<rect x="52.1" y="327.67" width="14.3" height="45.13" fill="#000"/>
<rect x="66.4" y="328.55" width="14.3" height="44.25" fill="#a8bbbd" stroke="#333" stroke-width="0.7"/>
<line x1="59.25" y1="318.81" x2="59.25" y2="327.67" stroke="#333" stroke-width="0.7"/>
<line x1="58.15" y1="318.81" x2="60.35" y2="318.81" stroke="#333" stroke-width="0.7"/>
<line x1="58.15" y1="327.67" x2="60.35" y2="327.67" stroke="#333" stroke-width="0.7"/>
<line x1="73.55" y1="316.16" x2="73.55" y2="340.94" stroke="#333" stroke-width="0.7"/>
<line x1="72.45" y1="316.16" x2="74.65" y2="316.16" stroke="#333" stroke-width="0.7"/>
<line x1="72.45" y1="340.94" x2="74.65" y2="340.94" stroke="#333" stroke-width="0.7"/>
<text x="67" y="384" font-size="7.4" text-anchor="middle" fill="#222">si-</text>
<rect x="102.6" y="339.88" width="14.5" height="32.92" fill="#000"/>
<rect x="117.1" y="316.34" width="14.5" height="56.46" fill="#a8bbbd" stroke="#333" stroke-width="0.7"/>
<line x1="109.85" y1="339.17" x2="109.85" y2="339.88" stroke="#333" stroke-width="0.7"/>
<line x1="108.75" y1="339.17" x2="110.95" y2="339.17" stroke="#333" stroke-width="0.7"/>
<line x1="108.75" y1="339.88" x2="110.95" y2="339.88" stroke="#333" stroke-width="0.7"/>
<line x1="124.35" y1="314.39" x2="124.35" y2="318.28" stroke="#333" stroke-width="0.7"/>
<line x1="123.25" y1="314.39" x2="125.45" y2="314.39" stroke="#333" stroke-width="0.7"/>
<line x1="123.25" y1="318.28" x2="125.45" y2="318.28" stroke="#333" stroke-width="0.7"/>
<text x="115.6" y="384" font-size="7.4" text-anchor="middle" fill="#222">siSE1</text>
<text x="95.2" y="305.6" font-size="7.8" text-anchor="middle" fill="#111">LNCaP cell counting</text>
<g transform="translate(27.6,337.9) rotate(-90)">
<text x="0" y="0" font-size="6.3" text-anchor="middle" fill="#222">Cell number</text>
</g>
<line x1="171.8" y1="304.4" x2="171.8" y2="372.9" stroke="#333" stroke-width="0.9"/>
<line x1="171.8" y1="372.9" x2="278" y2="372.9" stroke="#555" stroke-width="0.9"/>
<line x1="169.8" y1="372.9" x2="171.8" y2="372.9" stroke="#333" stroke-width="0.7"/>
<text x="170" y="375.2" font-size="6.6" text-anchor="end" fill="#333">0</text>
<line x1="169.8" y1="359.2" x2="171.8" y2="359.2" stroke="#333" stroke-width="0.7"/>
<text x="170" y="361.5" font-size="6.6" text-anchor="end" fill="#333">3</text>
<line x1="169.8" y1="345.5" x2="171.8" y2="345.5" stroke="#333" stroke-width="0.7"/>
<text x="170" y="347.8" font-size="6.6" text-anchor="end" fill="#333">6</text>
<line x1="169.8" y1="331.8" x2="171.8" y2="331.8" stroke="#333" stroke-width="0.7"/>
<text x="170" y="334.1" font-size="6.6" text-anchor="end" fill="#333">9</text>
<line x1="169.8" y1="318.1" x2="171.8" y2="318.1" stroke="#333" stroke-width="0.7"/>
<text x="170" y="320.4" font-size="6.6" text-anchor="end" fill="#333">12</text>
<line x1="169.8" y1="304.4" x2="171.8" y2="304.4" stroke="#333" stroke-width="0.7"/>
<text x="170" y="306.7" font-size="6.6" text-anchor="end" fill="#333">15</text>
<line x1="224.9" y1="372.9" x2="224.9" y2="375.1" stroke="#444" stroke-width="0.7"/>
<line x1="278" y1="372.9" x2="278" y2="375.1" stroke="#444" stroke-width="0.7"/>
<rect x="184.2" y="317.64" width="14.6" height="55.26" fill="#000"/>
<rect x="198.8" y="326.32" width="14.6" height="46.58" fill="#a8bbbd" stroke="#333" stroke-width="0.7"/>
<line x1="191.5" y1="313.3" x2="191.5" y2="317.64" stroke="#333" stroke-width="0.7"/>
<line x1="190.4" y1="313.3" x2="192.6" y2="313.3" stroke="#333" stroke-width="0.7"/>
<line x1="190.4" y1="317.64" x2="192.6" y2="317.64" stroke="#333" stroke-width="0.7"/>
<line x1="206.1" y1="322.44" x2="206.1" y2="330.2" stroke="#333" stroke-width="0.7"/>
<line x1="205" y1="322.44" x2="207.2" y2="322.44" stroke="#333" stroke-width="0.7"/>
<line x1="205" y1="330.2" x2="207.2" y2="330.2" stroke="#333" stroke-width="0.7"/>
<text x="198.7" y="384.1" font-size="7.4" text-anchor="middle" fill="#222">si-</text>
<rect x="236.4" y="348.83" width="15.2" height="24.07" fill="#000"/>
<rect x="251.6" y="322.07" width="15.2" height="50.83" fill="#a8bbbd" stroke="#333" stroke-width="0.7"/>
<line x1="244" y1="343.35" x2="244" y2="348.83" stroke="#333" stroke-width="0.7"/>
<line x1="242.9" y1="343.35" x2="245.1" y2="343.35" stroke="#333" stroke-width="0.7"/>
<line x1="242.9" y1="348.83" x2="245.1" y2="348.83" stroke="#333" stroke-width="0.7"/>
<line x1="259.2" y1="318.65" x2="259.2" y2="325.5" stroke="#333" stroke-width="0.7"/>
<line x1="258.1" y1="318.65" x2="260.3" y2="318.65" stroke="#333" stroke-width="0.7"/>
<line x1="258.1" y1="325.5" x2="260.3" y2="325.5" stroke="#333" stroke-width="0.7"/>
<text x="246.3" y="384.1" font-size="7.4" text-anchor="middle" fill="#222">siSE1</text>
<text x="224.8" y="305.7" font-size="7.8" text-anchor="middle" fill="#111">PC3 cell counting</text>
<g transform="translate(159.6,339.15) rotate(-90)">
<text x="0" y="0" font-size="6.3" text-anchor="middle" fill="#222">Cell number</text>
</g>
<rect x="271.7" y="302.4" width="56" height="20" fill="#fff" stroke="#444" stroke-width="0.7"/>
<rect x="274" y="305.7" width="4" height="4" fill="#000"/>
<text x="279.2" y="309.8" font-size="6.5" text-anchor="start" fill="#111" font-style="italic">ELK4</text>
<rect x="274.4" y="315.6" width="3.4" height="3.5" fill="#a8bbbd" stroke="#333" stroke-width="0.7"/>
<text x="279.2" y="319.8" font-size="6.5" text-anchor="start" fill="#111" font-style="italic">SLC45A3-ELK4</text>
<text x="343.2" y="9.5" font-size="11" text-anchor="start" fill="#000" font-weight="bold">E</text>
<text x="343.2" y="123.6" font-size="11" text-anchor="start" fill="#000" font-weight="bold">F</text>
<text x="342.6" y="223.7" font-size="11" text-anchor="start" fill="#000" font-weight="bold">G</text>
<line x1="382.8" y1="22.4" x2="382.8" y2="106" stroke="#333" stroke-width="0.9"/>
<line x1="382.8" y1="106" x2="518" y2="106" stroke="#444" stroke-width="1"/>
<line x1="380.8" y1="23.7" x2="382.8" y2="23.7" stroke="#333" stroke-width="0.7"/>
<text x="380" y="25.7" font-size="5.8" text-anchor="end" fill="#333">10<tspan font-size="4.2" dy="-1.9">−1</tspan></text>
<line x1="380.8" y1="34" x2="382.8" y2="34" stroke="#333" stroke-width="0.7"/>
<text x="380" y="36" font-size="5.8" text-anchor="end" fill="#333">10<tspan font-size="4.2" dy="-1.9">−2</tspan></text>
<line x1="380.8" y1="44.3" x2="382.8" y2="44.3" stroke="#333" stroke-width="0.7"/>
<text x="380" y="46.3" font-size="5.8" text-anchor="end" fill="#333">10<tspan font-size="4.2" dy="-1.9">−3</tspan></text>
<line x1="380.8" y1="54.6" x2="382.8" y2="54.6" stroke="#333" stroke-width="0.7"/>
<text x="380" y="56.6" font-size="5.8" text-anchor="end" fill="#333">10<tspan font-size="4.2" dy="-1.9">−4</tspan></text>
<line x1="380.8" y1="64.9" x2="382.8" y2="64.9" stroke="#333" stroke-width="0.7"/>
<text x="380" y="66.9" font-size="5.8" text-anchor="end" fill="#333">10<tspan font-size="4.2" dy="-1.9">−5</tspan></text>
<line x1="380.8" y1="75.2" x2="382.8" y2="75.2" stroke="#333" stroke-width="0.7"/>
<text x="380" y="77.2" font-size="5.8" text-anchor="end" fill="#333">10<tspan font-size="4.2" dy="-1.9">−6</tspan></text>
<line x1="380.8" y1="85.5" x2="382.8" y2="85.5" stroke="#333" stroke-width="0.7"/>
<text x="380" y="87.5" font-size="5.8" text-anchor="end" fill="#333">10<tspan font-size="4.2" dy="-1.9">−7</tspan></text>
<line x1="380.8" y1="95.8" x2="382.8" y2="95.8" stroke="#333" stroke-width="0.7"/>
<text x="380" y="97.8" font-size="5.8" text-anchor="end" fill="#333">10<tspan font-size="4.2" dy="-1.9">−8</tspan></text>
<line x1="396.8" y1="106" x2="396.8" y2="107.8" stroke="#333" stroke-width="0.7"/>
<line x1="423.8" y1="106" x2="423.8" y2="107.8" stroke="#333" stroke-width="0.7"/>
<line x1="451" y1="106" x2="451" y2="107.8" stroke="#333" stroke-width="0.7"/>
<line x1="478.4" y1="106" x2="478.4" y2="107.8" stroke="#333" stroke-width="0.7"/>
<line x1="505.3" y1="106" x2="505.3" y2="107.8" stroke="#333" stroke-width="0.7"/>
<g transform="translate(362.6,58.4) rotate(-90)">
<text x="0" y="0" font-size="6.6" text-anchor="middle" fill="#2a2a2a">Transcript amount</text>
</g>
<text x="451.8" y="7.5" font-size="7.65" text-anchor="middle" fill="#111" font-style="italic">SLC45A3-ELK4</text>
<line x1="395.5" y1="14.5" x2="395.5" y2="45" stroke="#3a3a3a" stroke-width="1"/>
<line x1="395.5" y1="14.5" x2="503.5" y2="14.5" stroke="#3a3a3a" stroke-width="1"/>
<line x1="503.5" y1="14.5" x2="503.5" y2="21.5" stroke="#3a3a3a" stroke-width="1"/>
<line x1="395.5" y1="20.5" x2="478" y2="20.5" stroke="#3a3a3a" stroke-width="1"/>
<line x1="478" y1="20.5" x2="478" y2="25.6" stroke="#3a3a3a" stroke-width="1"/>
<line x1="395.5" y1="28.5" x2="449.5" y2="28.5" stroke="#3a3a3a" stroke-width="1"/>
<line x1="449.5" y1="28.5" x2="449.5" y2="35" stroke="#3a3a3a" stroke-width="1"/>
<circle cx="440.5" cy="13" r="0.95" fill="#0a0a0a"/>
<circle cx="443.5" cy="13" r="0.95" fill="#0a0a0a"/>
<circle cx="430.1" cy="19" r="0.95" fill="#0a0a0a"/>
<circle cx="433.1" cy="19" r="0.95" fill="#0a0a0a"/>
<circle cx="417.4" cy="26.8" r="0.95" fill="#0a0a0a"/>
<circle cx="420.4" cy="26.8" r="0.95" fill="#0a0a0a"/>
<circle cx="396.6" cy="50.9" r="1.08" fill="#0a0a0a"/>
<circle cx="396.6" cy="57" r="1.08" fill="#0a0a0a"/>
<circle cx="396.6" cy="66" r="1.08" fill="#0a0a0a"/>
<line x1="387" y1="95.8" x2="405.6" y2="95.8" stroke="#333" stroke-width="0.95"/>
<line x1="389" y1="95.8" x2="402.5" y2="95.8" stroke="#111" stroke-width="1.8"/>
<circle cx="389.5" cy="95.8" r="1" fill="#0a0a0a"/>
<circle cx="392" cy="95.8" r="1" fill="#0a0a0a"/>
<circle cx="394.5" cy="95.8" r="1" fill="#0a0a0a"/>
<circle cx="397" cy="95.8" r="1" fill="#0a0a0a"/>
<circle cx="399.5" cy="95.8" r="1" fill="#0a0a0a"/>
<circle cx="402" cy="95.8" r="1" fill="#0a0a0a"/>
<circle cx="422.4" cy="57.4" r="1.08" fill="#0a0a0a"/>
<circle cx="425.6" cy="57.4" r="1.08" fill="#0a0a0a"/>
<line x1="414.6" y1="64.7" x2="433.1" y2="64.7" stroke="#333" stroke-width="0.95"/>
<circle cx="422.2" cy="63.8" r="1.08" fill="#0a0a0a"/>
<circle cx="425.3" cy="65.9" r="1.08" fill="#0a0a0a"/>
<circle cx="424" cy="95.7" r="1.08" fill="#0a0a0a"/>
<circle cx="451.2" cy="36.7" r="1.08" fill="#0a0a0a"/>
<circle cx="451.2" cy="42.6" r="1.08" fill="#0a0a0a"/>
<line x1="442.8" y1="49.2" x2="461" y2="49.2" stroke="#333" stroke-width="0.95"/>
<circle cx="451.2" cy="49.2" r="1.08" fill="#0a0a0a"/>
<circle cx="453.2" cy="57.7" r="1.08" fill="#0a0a0a"/>
<circle cx="450.1" cy="60.3" r="1.08" fill="#0a0a0a"/>
<circle cx="479.1" cy="29" r="1.08" fill="#0a0a0a"/>
<circle cx="479.1" cy="39.5" r="1.08" fill="#0a0a0a"/>
<circle cx="479.1" cy="45.7" r="1.08" fill="#0a0a0a"/>
<line x1="469.5" y1="51" x2="487.8" y2="51" stroke="#333" stroke-width="0.95"/>
<circle cx="476" cy="50.6" r="1.08" fill="#0a0a0a"/>
<circle cx="480" cy="49.8" r="1.08" fill="#0a0a0a"/>
<circle cx="482.2" cy="48.8" r="1.08" fill="#0a0a0a"/>
<circle cx="479.1" cy="54.6" r="1.08" fill="#0a0a0a"/>
<circle cx="476" cy="58.2" r="1.08" fill="#0a0a0a"/>
<circle cx="478.8" cy="58.2" r="1.08" fill="#0a0a0a"/>
<circle cx="482" cy="56.6" r="1.08" fill="#0a0a0a"/>
<circle cx="479.1" cy="70.1" r="1.08" fill="#0a0a0a"/>
<circle cx="504.4" cy="25.6" r="1.08" fill="#0a0a0a"/>
<circle cx="507.5" cy="28.2" r="1.08" fill="#0a0a0a"/>
<circle cx="506" cy="36.4" r="1.08" fill="#0a0a0a"/>
<line x1="497.1" y1="43" x2="515.3" y2="43" stroke="#333" stroke-width="0.95"/>
<circle cx="506" cy="41.7" r="1.08" fill="#0a0a0a"/>
<circle cx="506" cy="45.3" r="1.08" fill="#0a0a0a"/>
<circle cx="504.4" cy="51.5" r="1.08" fill="#0a0a0a"/>
<circle cx="507.5" cy="54.3" r="1.08" fill="#0a0a0a"/>
<circle cx="506.1" cy="95.8" r="1.08" fill="#0a0a0a"/>
<line x1="383.4" y1="119.7" x2="383.4" y2="210.5" stroke="#333" stroke-width="0.9"/>
<line x1="383.4" y1="210.5" x2="518" y2="210.5" stroke="#666" stroke-width="1.7"/>
<line x1="381.4" y1="120" x2="383.4" y2="120" stroke="#333" stroke-width="0.7"/>
<text x="380.6" y="122" font-size="5.8" text-anchor="end" fill="#333">10<tspan font-size="4.2" dy="-1.9">0</tspan></text>
<line x1="381.4" y1="130.02" x2="383.4" y2="130.02" stroke="#333" stroke-width="0.7"/>
<text x="380.6" y="132.02" font-size="5.8" text-anchor="end" fill="#333">10<tspan font-size="4.2" dy="-1.9">−1</tspan></text>
<line x1="381.4" y1="140.04" x2="383.4" y2="140.04" stroke="#333" stroke-width="0.7"/>
<text x="380.6" y="142.04" font-size="5.8" text-anchor="end" fill="#333">10<tspan font-size="4.2" dy="-1.9">−2</tspan></text>
<line x1="381.4" y1="150.06" x2="383.4" y2="150.06" stroke="#333" stroke-width="0.7"/>
<text x="380.6" y="152.06" font-size="5.8" text-anchor="end" fill="#333">10<tspan font-size="4.2" dy="-1.9">−3</tspan></text>
<line x1="381.4" y1="160.08" x2="383.4" y2="160.08" stroke="#333" stroke-width="0.7"/>
<text x="380.6" y="162.08" font-size="5.8" text-anchor="end" fill="#333">10<tspan font-size="4.2" dy="-1.9">−4</tspan></text>
<line x1="381.4" y1="170.1" x2="383.4" y2="170.1" stroke="#333" stroke-width="0.7"/>
<text x="380.6" y="172.1" font-size="5.8" text-anchor="end" fill="#333">10<tspan font-size="4.2" dy="-1.9">−5</tspan></text>
<line x1="381.4" y1="180.12" x2="383.4" y2="180.12" stroke="#333" stroke-width="0.7"/>
<text x="380.6" y="182.12" font-size="5.8" text-anchor="end" fill="#333">10<tspan font-size="4.2" dy="-1.9">−6</tspan></text>
<line x1="381.4" y1="190.14" x2="383.4" y2="190.14" stroke="#333" stroke-width="0.7"/>
<text x="380.6" y="192.14" font-size="5.8" text-anchor="end" fill="#333">10<tspan font-size="4.2" dy="-1.9">−7</tspan></text>
<line x1="381.4" y1="200.16" x2="383.4" y2="200.16" stroke="#333" stroke-width="0.7"/>
<text x="380.6" y="202.16" font-size="5.8" text-anchor="end" fill="#333">10<tspan font-size="4.2" dy="-1.9">−8</tspan></text>
<line x1="381.4" y1="210.18" x2="383.4" y2="210.18" stroke="#333" stroke-width="0.7"/>
<text x="380.6" y="212.18" font-size="5.8" text-anchor="end" fill="#333">10<tspan font-size="4.2" dy="-1.9">−9</tspan></text>
<line x1="396.8" y1="210.5" x2="396.8" y2="212.3" stroke="#333" stroke-width="0.7"/>
<line x1="423.8" y1="210.5" x2="423.8" y2="212.3" stroke="#333" stroke-width="0.7"/>
<line x1="451" y1="210.5" x2="451" y2="212.3" stroke="#333" stroke-width="0.7"/>
<line x1="478.4" y1="210.5" x2="478.4" y2="212.3" stroke="#333" stroke-width="0.7"/>
<line x1="505.3" y1="210.5" x2="505.3" y2="212.3" stroke="#333" stroke-width="0.7"/>
<g transform="translate(362.1,162.9) rotate(-90)">
<text x="0" y="0" font-size="6.6" text-anchor="middle" fill="#2a2a2a">Transcript amount</text>
</g>
<text x="451.5" y="120.5" font-size="7.8" text-anchor="middle" fill="#111" font-style="italic">SLC45A3</text>
<circle cx="395.6" cy="121.3" r="1.08" fill="#0a0a0a"/>
<circle cx="393.7" cy="125.1" r="1.08" fill="#0a0a0a"/>
<circle cx="398.7" cy="123.8" r="1.08" fill="#0a0a0a"/>
<circle cx="396.8" cy="127.9" r="1.08" fill="#0a0a0a"/>
<circle cx="399.9" cy="127.6" r="1.08" fill="#0a0a0a"/>
<line x1="388.1" y1="131.6" x2="405.9" y2="131.6" stroke="#333" stroke-width="0.95"/>
<circle cx="395.6" cy="131.6" r="1.08" fill="#0a0a0a"/>
<circle cx="398.7" cy="131.9" r="1.08" fill="#0a0a0a"/>
<circle cx="397" cy="146.9" r="1.08" fill="#0a0a0a"/>
<circle cx="397" cy="155.3" r="1.08" fill="#0a0a0a"/>
<circle cx="393.9" cy="200.9" r="0.95" fill="#0a0a0a"/>
<circle cx="396.6" cy="200.9" r="0.95" fill="#0a0a0a"/>
<circle cx="399.6" cy="200.9" r="0.95" fill="#0a0a0a"/>
<circle cx="422.3" cy="129.4" r="1.08" fill="#0a0a0a"/>
<circle cx="425.8" cy="131.7" r="0.8" fill="#0a0a0a"/>
<line x1="415.2" y1="141.9" x2="432.9" y2="141.9" stroke="#333" stroke-width="0.95"/>
<circle cx="423.8" cy="141.3" r="1.08" fill="#0a0a0a"/>
<circle cx="423.8" cy="145" r="1.08" fill="#0a0a0a"/>
<circle cx="422.4" cy="200.9" r="0.75" fill="#0a0a0a"/>
<circle cx="425.8" cy="200.9" r="0.75" fill="#0a0a0a"/>
<circle cx="451.1" cy="126.2" r="1.08" fill="#0a0a0a"/>
<circle cx="451.1" cy="135.8" r="1.08" fill="#0a0a0a"/>
<line x1="442.3" y1="200.8" x2="460" y2="200.8" stroke="#333" stroke-width="0.95"/>
<circle cx="446.5" cy="200.8" r="0.85" fill="#0a0a0a"/>
<circle cx="449.3" cy="200.8" r="0.85" fill="#0a0a0a"/>
<circle cx="452.1" cy="200.8" r="0.85" fill="#0a0a0a"/>
<circle cx="454.9" cy="200.8" r="0.85" fill="#0a0a0a"/>
<circle cx="478.2" cy="138.9" r="1.08" fill="#0a0a0a"/>
<circle cx="478.2" cy="153.5" r="1.08" fill="#0a0a0a"/>
<line x1="469.2" y1="200.8" x2="486.6" y2="200.8" stroke="#333" stroke-width="0.95"/>
<circle cx="472.5" cy="200.8" r="0.8" fill="#0a0a0a"/>
<circle cx="475" cy="200.8" r="0.8" fill="#0a0a0a"/>
<circle cx="477.5" cy="200.8" r="0.8" fill="#0a0a0a"/>
<circle cx="480" cy="200.8" r="0.8" fill="#0a0a0a"/>
<circle cx="482.5" cy="200.8" r="0.8" fill="#0a0a0a"/>
<circle cx="504.9" cy="120.5" r="1.35" fill="#6a6a6a" stroke="#1a1a1a" stroke-width="0.7"/>
<circle cx="504.9" cy="145.1" r="1.35" fill="#6a6a6a" stroke="#1a1a1a" stroke-width="0.7"/>
<circle cx="496.8" cy="200.8" r="1.2" fill="#6a6a6a" stroke="#1a1a1a" stroke-width="0.7"/>
<circle cx="499.65" cy="200.8" r="1.2" fill="#6a6a6a" stroke="#1a1a1a" stroke-width="0.7"/>
<circle cx="502.5" cy="200.8" r="1.2" fill="#6a6a6a" stroke="#1a1a1a" stroke-width="0.7"/>
<circle cx="505.35" cy="200.8" r="1.2" fill="#6a6a6a" stroke="#1a1a1a" stroke-width="0.7"/>
<circle cx="508.2" cy="200.8" r="1.2" fill="#6a6a6a" stroke="#1a1a1a" stroke-width="0.7"/>
<circle cx="511.05" cy="200.8" r="1.2" fill="#6a6a6a" stroke="#1a1a1a" stroke-width="0.7"/>
<circle cx="513.9" cy="200.8" r="1.2" fill="#6a6a6a" stroke="#1a1a1a" stroke-width="0.7"/>
<line x1="383.8" y1="221" x2="383.8" y2="317.8" stroke="#333" stroke-width="0.9"/>
<line x1="383.8" y1="317.8" x2="518" y2="317.8" stroke="#444" stroke-width="1"/>
<line x1="381.8" y1="221.5" x2="383.8" y2="221.5" stroke="#333" stroke-width="0.7"/>
<text x="381" y="223.5" font-size="5.8" text-anchor="end" fill="#333">10<tspan font-size="4.2" dy="-1.9">1</tspan></text>
<line x1="381.8" y1="231.12" x2="383.8" y2="231.12" stroke="#333" stroke-width="0.7"/>
<text x="381" y="233.12" font-size="5.8" text-anchor="end" fill="#333">10<tspan font-size="4.2" dy="-1.9">0</tspan></text>
<line x1="381.8" y1="240.74" x2="383.8" y2="240.74" stroke="#333" stroke-width="0.7"/>
<text x="381" y="242.74" font-size="5.8" text-anchor="end" fill="#333">10<tspan font-size="4.2" dy="-1.9">−1</tspan></text>
<line x1="381.8" y1="250.36" x2="383.8" y2="250.36" stroke="#333" stroke-width="0.7"/>
<text x="381" y="252.36" font-size="5.8" text-anchor="end" fill="#333">10<tspan font-size="4.2" dy="-1.9">−2</tspan></text>
<line x1="381.8" y1="259.98" x2="383.8" y2="259.98" stroke="#333" stroke-width="0.7"/>
<text x="381" y="261.98" font-size="5.8" text-anchor="end" fill="#333">10<tspan font-size="4.2" dy="-1.9">−3</tspan></text>
<line x1="381.8" y1="269.6" x2="383.8" y2="269.6" stroke="#333" stroke-width="0.7"/>
<text x="381" y="271.6" font-size="5.8" text-anchor="end" fill="#333">10<tspan font-size="4.2" dy="-1.9">−4</tspan></text>
<line x1="381.8" y1="279.22" x2="383.8" y2="279.22" stroke="#333" stroke-width="0.7"/>
<text x="381" y="281.22" font-size="5.8" text-anchor="end" fill="#333">10<tspan font-size="4.2" dy="-1.9">−5</tspan></text>
<line x1="381.8" y1="288.84" x2="383.8" y2="288.84" stroke="#333" stroke-width="0.7"/>
<text x="381" y="290.84" font-size="5.8" text-anchor="end" fill="#333">10<tspan font-size="4.2" dy="-1.9">−6</tspan></text>
<line x1="381.8" y1="298.46" x2="383.8" y2="298.46" stroke="#333" stroke-width="0.7"/>
<text x="381" y="300.46" font-size="5.8" text-anchor="end" fill="#333">10<tspan font-size="4.2" dy="-1.9">−7</tspan></text>
<line x1="381.8" y1="308.08" x2="383.8" y2="308.08" stroke="#333" stroke-width="0.7"/>
<text x="381" y="310.08" font-size="5.8" text-anchor="end" fill="#333">10<tspan font-size="4.2" dy="-1.9">−8</tspan></text>
<line x1="381.8" y1="317.7" x2="383.8" y2="317.7" stroke="#333" stroke-width="0.7"/>
<text x="381" y="319.7" font-size="5.8" text-anchor="end" fill="#333">10<tspan font-size="4.2" dy="-1.9">−9</tspan></text>
<line x1="396.8" y1="317.8" x2="396.8" y2="319.6" stroke="#333" stroke-width="0.7"/>
<line x1="423.8" y1="317.8" x2="423.8" y2="319.6" stroke="#333" stroke-width="0.7"/>
<line x1="451" y1="317.8" x2="451" y2="319.6" stroke="#333" stroke-width="0.7"/>
<line x1="478.4" y1="317.8" x2="478.4" y2="319.6" stroke="#333" stroke-width="0.7"/>
<line x1="505.3" y1="317.8" x2="505.3" y2="319.6" stroke="#333" stroke-width="0.7"/>
<g transform="translate(361.5,268.1) rotate(-90)">
<text x="0" y="0" font-size="6.6" text-anchor="middle" fill="#2a2a2a">Transcript amount</text>
</g>
<text x="449.6" y="228.7" font-size="7.65" text-anchor="middle" fill="#111" font-style="italic">ELK4</text>
<circle cx="396.9" cy="237.2" r="1.08" fill="#0a0a0a"/>
<circle cx="396.9" cy="254.5" r="1.08" fill="#0a0a0a"/>
<circle cx="395.8" cy="258.8" r="1.08" fill="#0a0a0a"/>
<circle cx="398.8" cy="259.7" r="1.08" fill="#0a0a0a"/>
<line x1="388.6" y1="308.4" x2="405.2" y2="308.4" stroke="#333" stroke-width="0.95"/>
<line x1="389.6" y1="308.4" x2="403.6" y2="308.4" stroke="#111" stroke-width="2.1"/>
<circle cx="390.4" cy="308.4" r="1.05" fill="#0a0a0a"/>
<circle cx="392.25" cy="308.4" r="1.05" fill="#0a0a0a"/>
<circle cx="394.1" cy="308.4" r="1.05" fill="#0a0a0a"/>
<circle cx="395.95" cy="308.4" r="1.05" fill="#0a0a0a"/>
<circle cx="397.8" cy="308.4" r="1.05" fill="#0a0a0a"/>
<circle cx="399.65" cy="308.4" r="1.05" fill="#0a0a0a"/>
<circle cx="401.5" cy="308.4" r="1.05" fill="#0a0a0a"/>
<circle cx="403.35" cy="308.4" r="1.05" fill="#0a0a0a"/>
<circle cx="424" cy="262.8" r="1.08" fill="#0a0a0a"/>
<circle cx="424" cy="275.5" r="1.08" fill="#0a0a0a"/>
<line x1="415.4" y1="308.4" x2="433.2" y2="308.4" stroke="#333" stroke-width="0.95"/>
<circle cx="418.4" cy="308.4" r="0.85" fill="#0a0a0a"/>
<circle cx="421.3" cy="308.4" r="0.85" fill="#0a0a0a"/>
<circle cx="424.2" cy="308.4" r="0.85" fill="#0a0a0a"/>
<circle cx="427.1" cy="308.4" r="0.85" fill="#0a0a0a"/>
<circle cx="430" cy="308.4" r="0.85" fill="#0a0a0a"/>
<circle cx="451.6" cy="244.5" r="1.08" fill="#0a0a0a"/>
<line x1="442.5" y1="308.4" x2="461" y2="308.4" stroke="#333" stroke-width="0.95"/>
<circle cx="445.6" cy="308.4" r="0.85" fill="#0a0a0a"/>
<circle cx="448.5" cy="308.4" r="0.85" fill="#0a0a0a"/>
<circle cx="451.4" cy="308.4" r="0.85" fill="#0a0a0a"/>
<circle cx="454.3" cy="308.4" r="0.85" fill="#0a0a0a"/>
<circle cx="457.2" cy="308.4" r="0.85" fill="#0a0a0a"/>
<circle cx="478.3" cy="226.8" r="1.08" fill="#0a0a0a"/>
<circle cx="477" cy="250.7" r="1.08" fill="#0a0a0a"/>
<circle cx="480" cy="252.2" r="1.08" fill="#0a0a0a"/>
<circle cx="478.5" cy="256.1" r="1.08" fill="#0a0a0a"/>
<circle cx="478.5" cy="266.5" r="1.08" fill="#0a0a0a"/>
<line x1="469.2" y1="308.4" x2="487.7" y2="308.4" stroke="#333" stroke-width="0.95"/>
<circle cx="471.2" cy="308.4" r="0.85" fill="#0a0a0a"/>
<circle cx="474.1" cy="308.4" r="0.85" fill="#0a0a0a"/>
<circle cx="477" cy="308.4" r="0.85" fill="#0a0a0a"/>
<circle cx="479.9" cy="308.4" r="0.85" fill="#0a0a0a"/>
<circle cx="482.8" cy="308.4" r="0.85" fill="#0a0a0a"/>
<circle cx="485.7" cy="308.4" r="0.85" fill="#0a0a0a"/>
<circle cx="505.5" cy="241.1" r="1.35" fill="#6a6a6a" stroke="#1a1a1a" stroke-width="0.7"/>
<circle cx="505.5" cy="255.3" r="1.35" fill="#6a6a6a" stroke="#1a1a1a" stroke-width="0.7"/>
<circle cx="496.8" cy="308.4" r="1.2" fill="#6a6a6a" stroke="#1a1a1a" stroke-width="0.7"/>
<circle cx="499.65" cy="308.4" r="1.2" fill="#6a6a6a" stroke="#1a1a1a" stroke-width="0.7"/>
<circle cx="502.5" cy="308.4" r="1.2" fill="#6a6a6a" stroke="#1a1a1a" stroke-width="0.7"/>
<circle cx="505.35" cy="308.4" r="1.2" fill="#6a6a6a" stroke="#1a1a1a" stroke-width="0.7"/>
<circle cx="508.2" cy="308.4" r="1.2" fill="#6a6a6a" stroke="#1a1a1a" stroke-width="0.7"/>
<circle cx="511.05" cy="308.4" r="1.2" fill="#6a6a6a" stroke="#1a1a1a" stroke-width="0.7"/>
<circle cx="513.9" cy="308.4" r="1.2" fill="#6a6a6a" stroke="#1a1a1a" stroke-width="0.7"/>
<g transform="translate(399.4,326.2) rotate(-45)">
<text x="0" y="0" font-size="7.25" text-anchor="end" fill="#222">Normal prostate</text>
</g>
<g transform="translate(426.4,326.2) rotate(-45)">
<text x="0" y="0" font-size="7.25" text-anchor="end" fill="#222">Gleason 6</text>
</g>
<g transform="translate(453.6,326.2) rotate(-45)">
<text x="0" y="0" font-size="7.25" text-anchor="end" fill="#222">Gleason 7</text>
</g>
<g transform="translate(481,326.2) rotate(-45)">
<text x="0" y="0" font-size="7.25" text-anchor="end" fill="#222">Gleason 8–10 (primary)</text>
</g>
<g transform="translate(507.9,326.2) rotate(-45)">
<text x="0" y="0" font-size="7.25" text-anchor="end" fill="#222">Metastasis</text>
</g>
</svg></body></html>
